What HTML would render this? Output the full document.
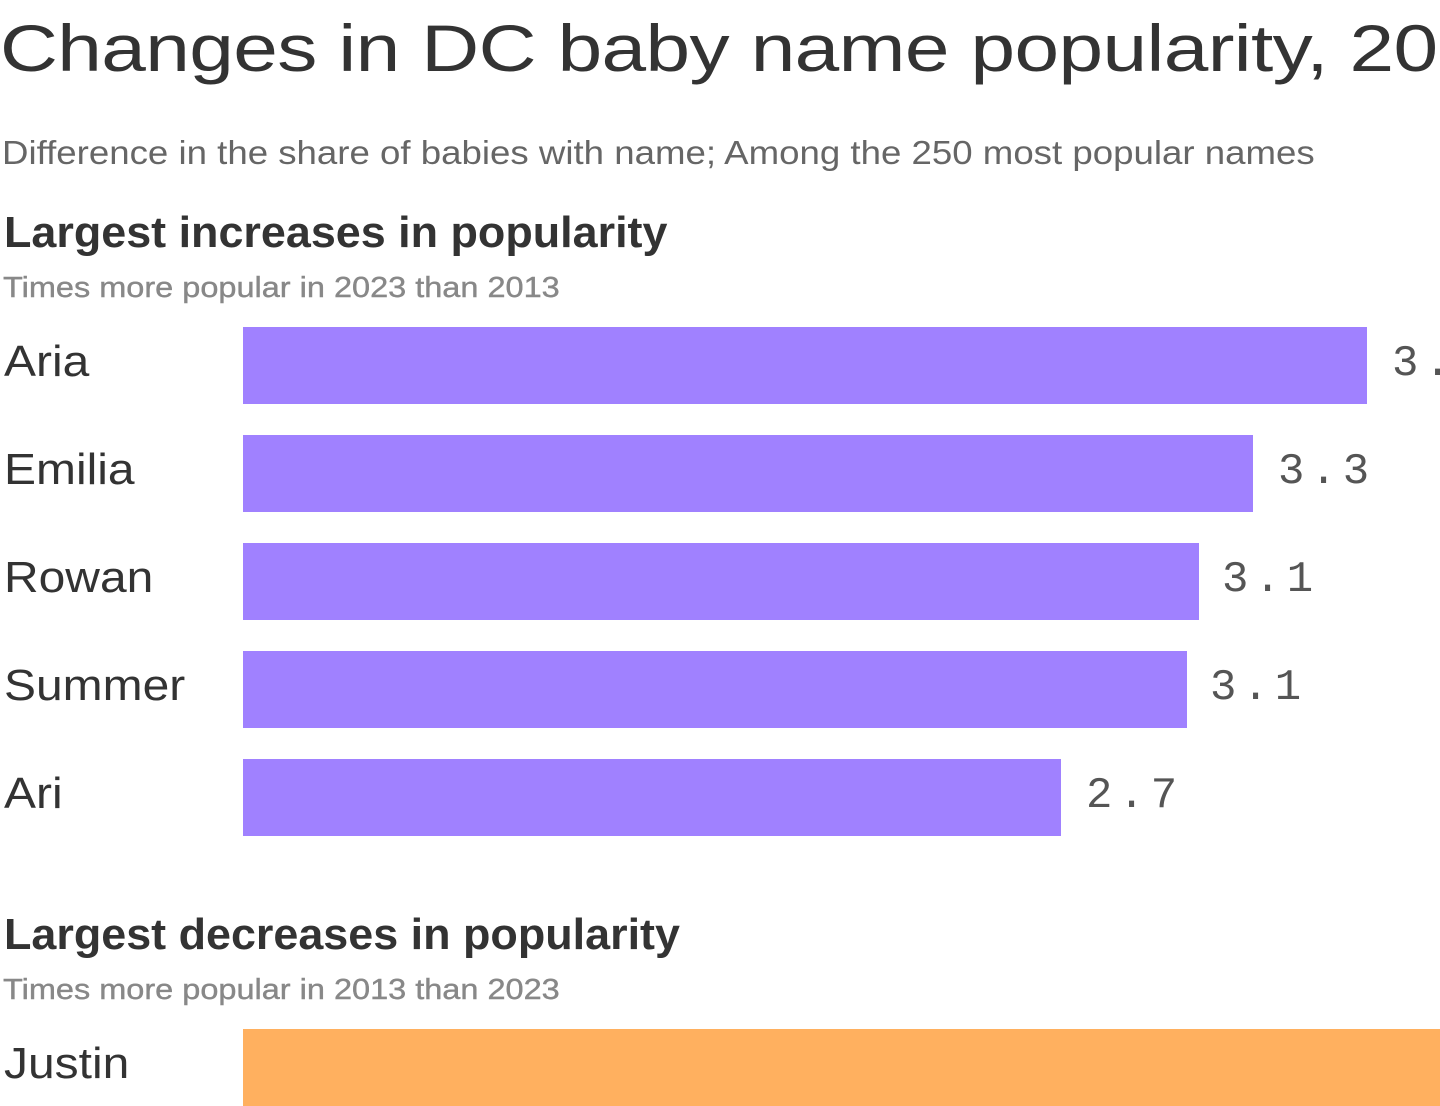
<!DOCTYPE html>
<html><head><meta charset="utf-8"><style>
body{margin:0;width:1440px;height:1080px;overflow:hidden;background:#fff;font-family:"Liberation Sans",sans-serif;position:relative}
div{position:absolute;white-space:nowrap;transform-origin:0 0}
.t{left:0;top:10px;font-size:66px;color:#333;letter-spacing:-0.5px;transform:scaleX(1.215)}
.s{left:2px;top:134px;font-size:33px;color:#666;transform:scaleX(1.11)}
.h{left:4px;font-size:44px;font-weight:bold;color:#333;transform:scaleX(1.02)}
.hs{left:3px;font-size:29px;color:#888;transform:scaleX(1.12);-webkit-text-stroke:0.4px #888}
.n{left:4px;font-size:44px;color:#333;transform:scaleX(1.09)}
.b{left:243px;height:77px;background:#a081ff;transform:none}
.v{font-family:"Liberation Mono",monospace;font-size:44px;color:#555;letter-spacing:6px}
</style></head><body>
<div class="t">Changes in DC baby name popularity, 2013–2023</div>
<div class="s">Difference in the share of babies with name; Among the 250 most popular names</div>
<div class="h" style="top:208px">Largest increases in popularity</div>
<div class="hs" style="top:272px">Times more popular in 2023 than 2013</div>

<div class="n" style="top:337px">Aria</div>
<div class="b" style="top:327px;width:1124px"></div>
<div class="v" style="top:339px;left:1392px">3.3</div>

<div class="n" style="top:445px">Emilia</div>
<div class="b" style="top:435px;width:1010px"></div>
<div class="v" style="top:447px;left:1278px">3.3</div>

<div class="n" style="top:553px">Rowan</div>
<div class="b" style="top:543px;width:956px"></div>
<div class="v" style="top:555px;left:1222px">3.1</div>

<div class="n" style="top:661px">Summer</div>
<div class="b" style="top:651px;width:944px"></div>
<div class="v" style="top:663px;left:1210px">3.1</div>

<div class="n" style="top:769px">Ari</div>
<div class="b" style="top:759px;width:818px"></div>
<div class="v" style="top:771px;left:1086px">2.7</div>

<div class="h" style="top:910px">Largest decreases in popularity</div>
<div class="hs" style="top:974px">Times more popular in 2013 than 2023</div>
<div class="n" style="top:1039px">Justin</div>
<div class="b" style="top:1029px;width:1197px;background:#ffb05f"></div>
</body></html>
